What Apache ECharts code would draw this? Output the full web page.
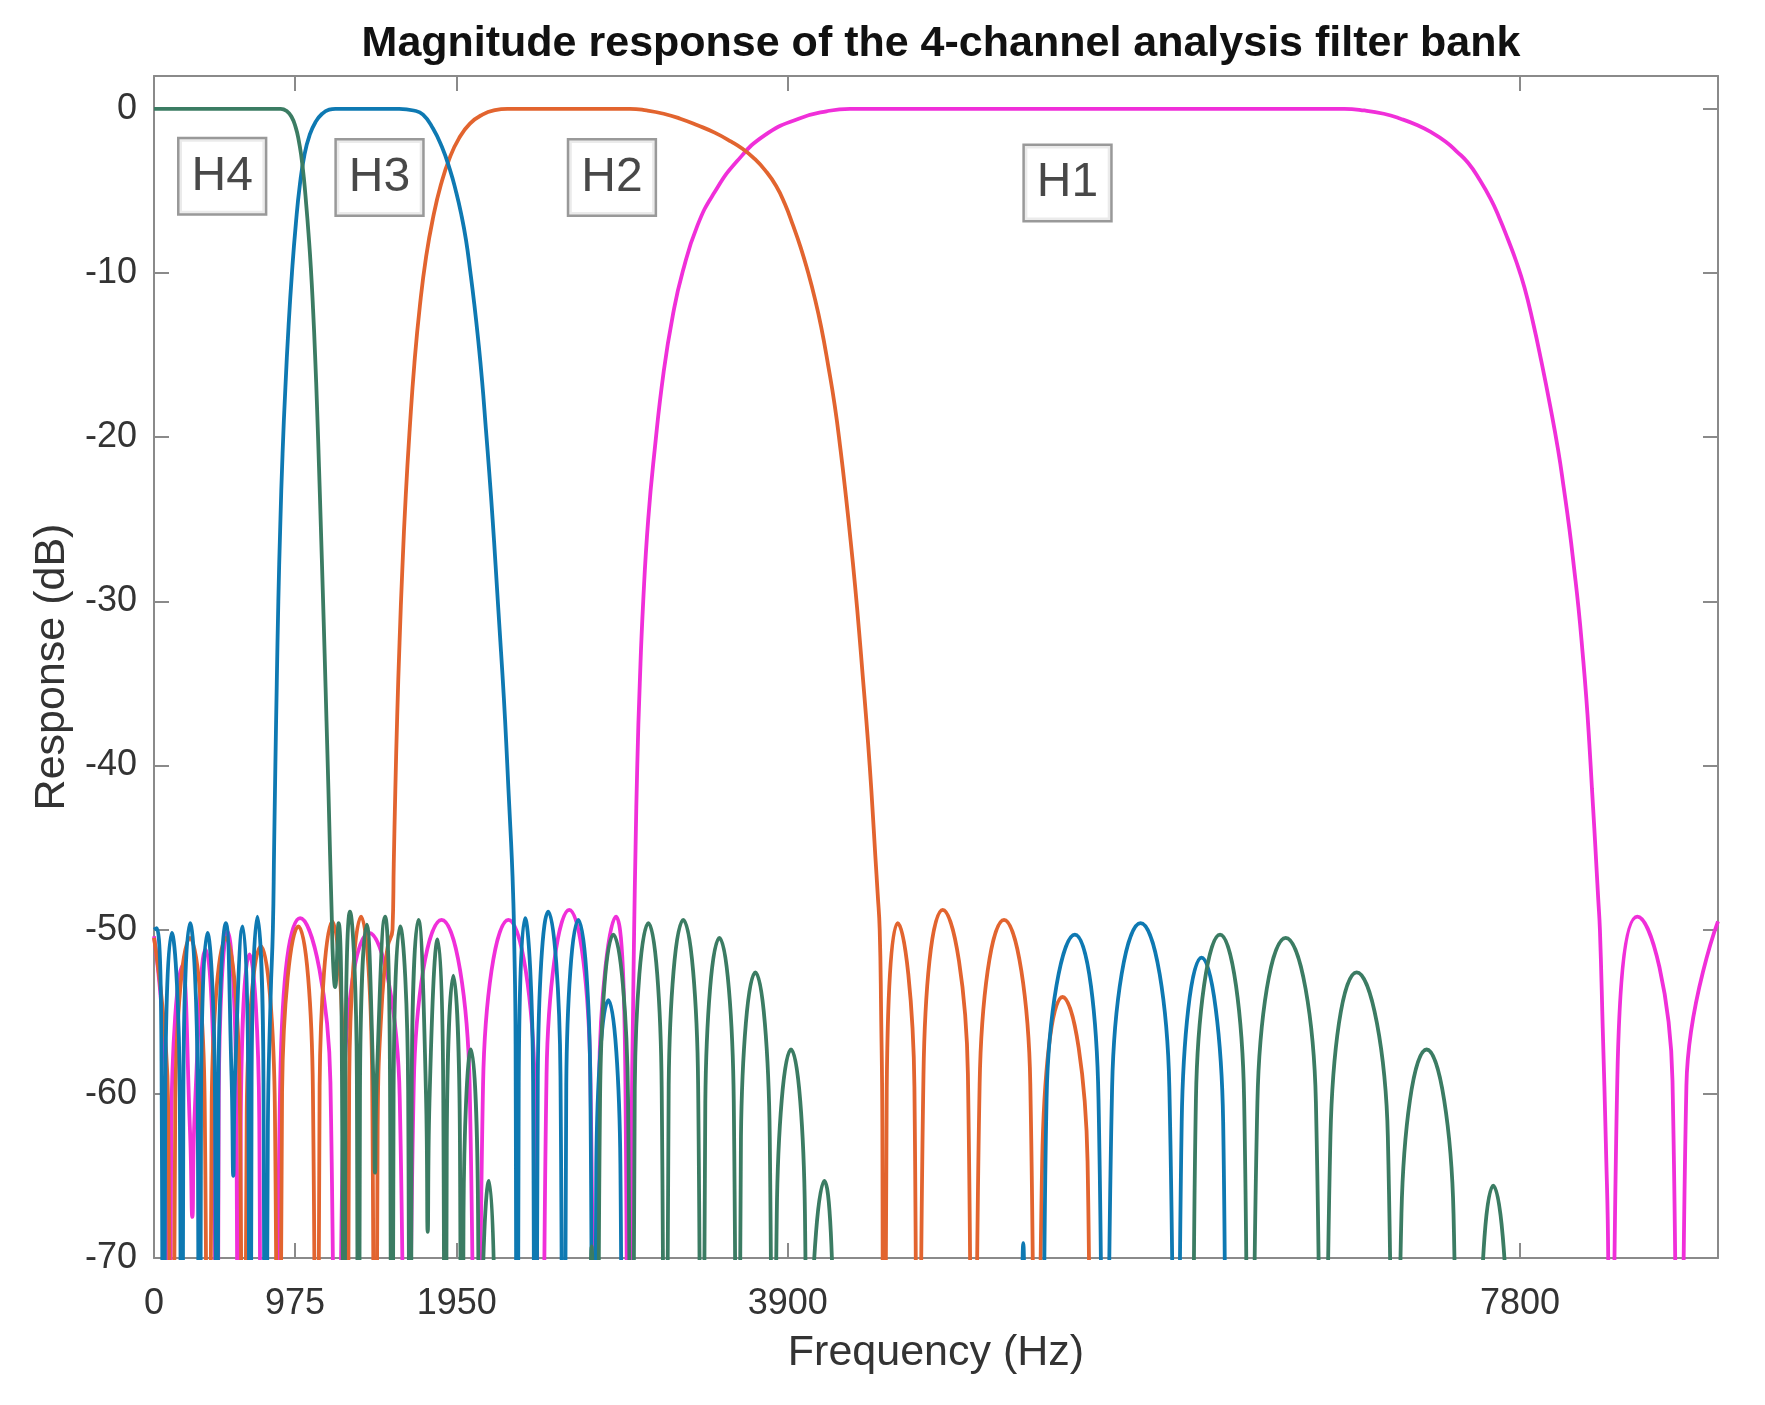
<!DOCTYPE html>
<html><head><meta charset="utf-8">
<script src="https://cdn.jsdelivr.net/npm/echarts@6/dist/echarts.min.js"></script>
<style>html,body{margin:0;padding:0;background:#fff}#c{width:1765px;height:1405px}</style>
</head><body><div id="c"></div>
<script>
// x values: normalized frequency position along the axis (0..1000 = axis extent)
const TITLE = 'Magnitude response of the 4-channel analysis filter bank';
const X_NAME = 'Frequency (Hz)';
const Y_NAME = 'Response (dB)';
const X_TICK_POS = [0, 90.2, 193.6, 405.2, 873.4];
const X_TICK_LABELS = ['0', '975', '1950', '3900', '7800'];
const Y_TICKS = [-70, -60, -50, -40, -30, -20, -10, 0];

const H1 = [[0,-50.4],[7.8,-60.4],[9.5,-100],
[11,-62.2],[18,-52.2],[23,-62.2],[24.5,-67.5],
[26,-61.2],[33,-51.2],[38.5,-61.2],[40,-100],
[41.4,-60.1],[47,-50.1],[52.6,-60.1],[54,-100],
[55.5,-61.5],[61,-51.5],[67.3,-61.5],[68.8,-100],[76.7,-100],
[80.7,-59.3],[93.4,-49.3],[112.8,-59.3],[116.8,-100],
[121.3,-60.2],[137.5,-50.2],[157.1,-60.2],[161.6,-100],
[166.1,-59.4],[183.9,-49.4],[201.8,-59.4],[206.3,-100],
[210.4,-59.4],[226.6,-49.4],[243.4,-59.4],[247.5,-100],
[251,-58.8],[265.5,-48.8],[279,-58.8],[282.5,-100],
[284.6,-59.2],[295.4,-49.2],[301.4,-59.2],[303.5,-100],
[305.4,-62],[306.3,-55],[307,-50],[307.9,-45],[309,-40],[310.6,-35],[312.8,-30],[316,-25],[320.1,-20.8],[325.9,-16],[331.7,-12.6],[338.1,-9.9],[347.5,-7.1],[358.3,-5.1],[372.7,-3.2],[390.6,-1.6],[412.2,-0.6],[430,-0.15],[445,0],[600,0],[761,0],
[774,-0.1],[786.3,-0.3],[797,-0.6],[807.9,-1],[817,-1.45],[825.9,-2],[833,-2.6],[840.3,-3.3],[847.5,-4.3],[854.7,-5.5],[860,-6.6],[865.5,-7.9],[871,-9.3],[876.3,-10.9],[881.7,-13],[887.1,-15.4],[892.5,-18],[897.8,-20.8],[901.4,-23.1],[905,-25.6],[908,-28],[910.8,-30.4],[913.4,-33.1],[915.8,-35.9],[917.7,-38.6],[919.4,-41.4],[920.9,-43.8],[922.3,-46.2],[923.4,-48.1],[924.5,-50],[926.3,-56],[928.3,-63],[929.8,-70],[931.2,-100],
[935.6,-59.2],[948.4,-49.2],[970.9,-59.2],[975.3,-100],
[979.8,-59.5],[1000,-49.5]];

const H2 = [[0,-50.5],[9,-60.5],[11.3,-100],
[13.6,-60.5],[23,-50.5],[32.4,-60.5],[34.7,-100],
[36.9,-60.5],[46,-50.5],[54.9,-60.5],[57.1,-100],
[59.3,-61],[68.3,-51],[77.3,-61],[79.5,-100],
[81.9,-59.8],[92.3,-49.8],[101.6,-59.8],[104,-100],
[105.9,-59.5],[114,-49.5],[121.1,-59.5],[123,-100],
[124.8,-59.2],[132.4,-49.2],[139.5,-59.2],[141.3,-100],
[143,-62],[146,-54],[149.5,-51],[152.5,-50],[153.3,-46],[154.3,-41.5],[155.5,-37],[157,-32.5],[158.8,-28],[161,-23.5],[163.5,-19.5],[166.5,-15.5],[170,-12],[174,-9],[178.5,-6.6],[183.5,-4.6],[189,-3],[195,-1.8],[202,-0.9],[210,-0.35],[218,-0.08],[226,0],[260,0],[304.3,0],
[315,-0.1],[325.9,-0.3],[336.5,-0.6],[347.5,-1],[358.5,-1.45],[369.1,-2],[376.5,-2.45],[383.5,-3],[390.8,-3.75],[397.8,-4.7],[403.4,-5.8],[408.6,-7.1],[413.5,-8.45],[418,-9.9],[422.4,-11.5],[426.6,-13.3],[431,-15.6],[435.3,-18.1],[439,-20.8],[442.4,-23.6],[445.4,-26.3],[448.2,-29],[450.8,-31.8],[453.2,-34.6],[455.5,-37.3],[457.6,-40],[459.5,-42.8],[461.2,-45.5],[462.7,-47.8],[464,-50],[464.9,-55],[465.7,-62],[466.4,-100],
[468.5,-59.6],[475.5,-49.6],[486.2,-59.6],[488.5,-100],
[492,-58.8],[504.3,-48.8],[520.4,-58.8],[523.9,-100],
[527.9,-59.4],[543.5,-49.4],[560.3,-59.4],[564.3,-100],
[567.9,-64.1],[580.9,-54.1],[596.9,-64.1],[600.5,-100],
[800,-95],[1000,-100]];

const H3 = [[0,-50],[1.7,-49.9],[4.8,-58],[6,-100],
[7.2,-60.2],[11.3,-50.2],[16.5,-60.2],[17.7,-100],
[18.8,-59.6],[23,-49.6],[27.9,-59.6],[29,-100],
[30.1,-60.2],[34.1,-50.2],[39,-60.2],[40.1,-100],
[41.2,-59.6],[46,-49.6],[49.6,-59],[50.7,-65],
[51.8,-59],[56.7,-49.8],[60.3,-59.8],[61.4,-100],
[62.4,-59.2],[66.1,-49.2],[70,-59.2],[71,-100],
[72.8,-62],[74.6,-54],[76,-50],[76.8,-45],[77.6,-40],[78.5,-35],[79.5,-30],[80.7,-25.5],[82.2,-21],[84,-17],[86,-13.3],[88.2,-10],[90.7,-7],[93.3,-4.6],[96.2,-2.8],[99.5,-1.6],[103.3,-0.8],[107.5,-0.3],[112,-0.05],[116,0],[140,0],[156.8,0],
[166,-0.1],[172,-0.35],[178.4,-1.2],[184,-2.3],[189.2,-3.7],[193,-5],[196.4,-6.4],[199.5,-8],[202.2,-9.9],[204.8,-11.9],[207.2,-14],[209.8,-16.6],[212.2,-19.5],[214.4,-22.2],[216.5,-25],[218.4,-27.8],[220.1,-30.4],[221.9,-33.1],[223.7,-35.9],[225.2,-38.6],[226.6,-41.4],[227.8,-43.7],[228.8,-45.7],[229.6,-47.8],[230.2,-50],[231.2,-57],[232,-100],
[233.2,-59.3],[237.2,-49.3],[242.4,-59.3],[243.6,-100],
[245.4,-58.9],[252.1,-48.9],[259.9,-58.9],[261.7,-100],
[263.6,-59.4],[271.3,-49.4],[279,-59.4],[280.9,-100],
[282.8,-64.3],[290.5,-54.3],[298.2,-64.3],[300.1,-100],
[430,-95],[552.5,-100],[555.8,-69.1],[559,-100],[566.5,-100],
[570.7,-60.3],[588.8,-50.3],[603.9,-60.3],[608,-100],
[612.6,-59.6],[630.8,-49.6],[649.2,-59.6],[653.8,-100],
[657.1,-61.7],[669.8,-51.7],[683.6,-61.7],[686.9,-100],
[850,-95],[1000,-100]];

const H4 = [[0,0],[40,0],[81,0],[85,-0.15],[88,-0.5],[90.5,-1.1],[92.5,-1.9],[94.2,-2.9],[95.8,-4.2],[97.3,-5.8],[98.8,-7.6],[100.3,-9.7],[101.7,-12.2],[103,-15],[104.3,-18.3],[105.5,-21.8],[106.7,-25.5],[107.9,-29.3],[109.1,-33.2],[110.3,-37.3],[111.5,-41.4],[112.6,-45.5],[113.6,-49],[114.5,-52],[115.8,-53.5],[118,-49.6],[120,-56],[121.5,-100],
[122.4,-58.9],[125.3,-48.9],[129.7,-58.9],[130.6,-100],
[131.7,-59.7],[136,-49.7],[140.2,-59],[141.3,-64.8],
[142.4,-59.2],[147.7,-49.2],[150.9,-59.2],[152,-100],
[153.2,-59.8],[157.3,-49.8],[162.5,-59.8],[163.7,-100],
[164.8,-59.4],[169,-49.4],[173.9,-60],[175,-68.4],
[176.1,-60.6],[181.4,-50.6],[185,-60.6],[186.1,-100],
[187.2,-62.8],[191.4,-52.8],[195.6,-62.8],[196.7,-100],
[197.9,-67.3],[202.7,-57.3],[207.2,-67.3],[208.4,-100],
[209.5,-75.3],[214.2,-65.3],[218,-75.3],[219.1,-100],
[248,-95],[276.6,-100],[279.8,-69.3],[283,-100],
[285.2,-60.3],[293.7,-50.3],[303.1,-60.3],[305.3,-100],
[307.4,-59.6],[316.1,-49.6],[324.6,-59.6],[326.7,-100],
[329.1,-59.4],[338.4,-49.4],[347.9,-59.4],[350.2,-100],
[352.5,-60.5],[361.5,-50.5],[370.7,-60.5],[373,-100],
[375.3,-62.6],[384.5,-52.6],[393.7,-62.6],[396,-100],
[398.2,-67.3],[407.3,-57.3],[416.2,-67.3],[418.4,-100],
[420.2,-75.3],[428.6,-65.3],[434.7,-75.3],[436.5,-100],
[550,-95],[662.4,-100],
[666.2,-60.3],[681.6,-50.3],[697,-60.3],[700.8,-100],
[705.5,-60.5],[723.6,-50.5],[742.9,-60.5],[747.6,-100],
[752.2,-62.6],[769,-52.6],[788.9,-62.6],[793.5,-100],
[797.6,-67.3],[813.7,-57.3],[830.9,-67.3],[835,-100],
[840,-95],[845.6,-100],
[847.8,-75.6],[856.3,-65.6],[865.8,-75.6],[868,-100],
[935,-95],[1000,-100]];

const SERIES_NAMES = ['H1', 'H2', 'H3', 'H4'];
const SERIES_COLORS = ['#f02fd9', '#e2642f', '#0e79b2', '#3b7c63'];

const BOX_NAMES = ['H4', 'H3', 'H2', 'H1'];
const BOX_X = [43.6, 144.2, 292.8, 584.1];
const BOX_Y = [-4.11, -4.18, -4.18, -4.52];

const FONT = "'Liberation Sans', Arial, sans-serif";
const AXIS_COLOR = '#8a8a8a';
const TEXT_COLOR = '#333333';

const chart = echarts.init(document.getElementById('c'));
const seriesData = [H1, H2, H3, H4];

const lineSeries = SERIES_NAMES.map((n, i) => ({
  name: n, type: 'line', data: seriesData[i], xAxisIndex: 0, yAxisIndex: 0,
  showSymbol: false, smooth: 0.5, clip: true, silent: true,
  lineStyle: { color: SERIES_COLORS[i], width: 3.8 }, z: 2 + i
}));

function xLabel(v) {
  for (let i = 0; i < X_TICK_POS.length; i++) if (Math.abs(X_TICK_POS[i] - v) < 1e-6) return X_TICK_LABELS[i];
  return '';
}

chart.setOption({
  animation: false,
  backgroundColor: '#ffffff',
  title: {
    text: TITLE, left: 936, top: 18, textAlign: 'center',
    textStyle: { fontFamily: FONT, fontSize: 43, fontWeight: 'bold', color: '#111111' }
  },
  grid: { left: 154, right: 47, top: 76, bottom: 147, containLabel: false },
  xAxis: [{
    type: 'value', min: 0, max: 1000, position: 'bottom',
    name: X_NAME, nameLocation: 'middle', nameGap: 74,
    nameTextStyle: { fontFamily: FONT, fontSize: 43, color: TEXT_COLOR },
    axisLine: { show: true, onZero: false, lineStyle: { color: AXIS_COLOR, width: 2 } },
    axisTick: { show: true, inside: true, length: 15, customValues: X_TICK_POS, lineStyle: { color: AXIS_COLOR, width: 2 } },
    axisLabel: { show: true, customValues: X_TICK_POS, formatter: xLabel, margin: 28, fontFamily: FONT, fontSize: 36, color: TEXT_COLOR },
    splitLine: { show: false }
  }, {
    type: 'value', min: 0, max: 1000, position: 'top',
    axisLine: { show: true, onZero: false, lineStyle: { color: AXIS_COLOR, width: 2 } },
    axisTick: { show: true, inside: true, length: 15, customValues: X_TICK_POS, lineStyle: { color: AXIS_COLOR, width: 2 } },
    axisLabel: { show: false }, splitLine: { show: false }
  }],
  yAxis: [{
    type: 'value', min: -70, max: 2, position: 'left',
    name: Y_NAME, nameLocation: 'middle', nameGap: 80, nameRotate: 90,
    nameTextStyle: { fontFamily: FONT, fontSize: 43, color: TEXT_COLOR },
    axisLine: { show: true, onZero: false, lineStyle: { color: AXIS_COLOR, width: 2 } },
    axisTick: { show: true, inside: true, length: 15, customValues: Y_TICKS, lineStyle: { color: AXIS_COLOR, width: 2 } },
    axisLabel: { show: true, customValues: Y_TICKS, margin: 17, fontFamily: FONT, fontSize: 36, color: TEXT_COLOR },
    splitLine: { show: false }
  }, {
    type: 'value', min: -70, max: 2, position: 'right',
    axisLine: { show: true, onZero: false, lineStyle: { color: AXIS_COLOR, width: 2 } },
    axisTick: { show: true, inside: true, length: 15, customValues: Y_TICKS, lineStyle: { color: AXIS_COLOR, width: 2 } },
    axisLabel: { show: false }, splitLine: { show: false }
  }],
  series: lineSeries.concat([{
    type: 'scatter', xAxisIndex: 0, yAxisIndex: 0, silent: true, z: 20,
    symbolSize: 2, itemStyle: { color: 'rgba(255,255,255,0)' },
    data: BOX_NAMES.map((n, i) => [BOX_X[i], BOX_Y[i], n]),
    label: {
      show: true, position: 'inside', formatter: p => p.value[2],
      fontFamily: FONT, fontSize: 48, color: '#1a1a1a', lineHeight: 50,
      backgroundColor: '#ffffff', borderColor: '#808080', borderWidth: 2.5,
      padding: [12, 12, 12, 12]
    },
    labelLayout: { hideOverlap: false }
  }])
});
</script></body></html>
